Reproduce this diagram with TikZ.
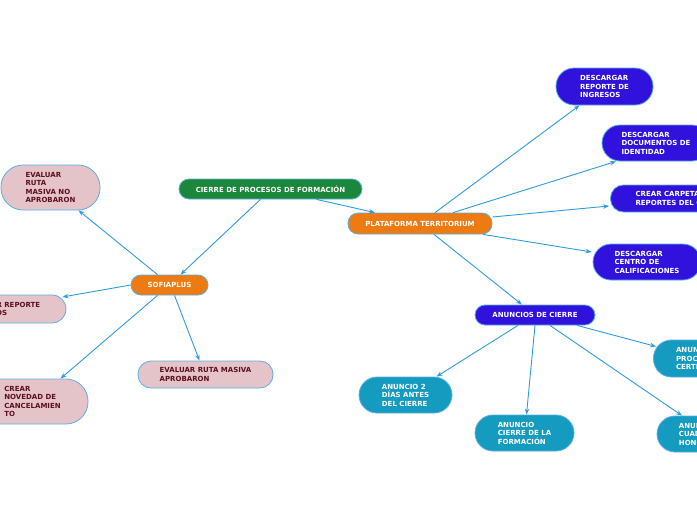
\documentclass[tikz,border=0pt]{standalone}
\usepackage{fontspec}
\setmainfont{DejaVu Sans}
\usetikzlibrary{arrows.meta}

\definecolor{rootgreen}{HTML}{1B873A}
\definecolor{mainorange}{HTML}{EE7A12}
\definecolor{leafpink}{HTML}{E5C4C9}
\definecolor{leaftext}{HTML}{5C0F1E}
\definecolor{taskblue}{HTML}{3112DC}
\definecolor{noticeteal}{HTML}{159BC0}
\definecolor{linkblue}{HTML}{2E9BE0}
\definecolor{rimblue}{HTML}{5AAEE8}

\begin{document}
\begin{tikzpicture}[x=1pt, y=-1pt,
		box/.style={draw=rimblue, line width=0.8pt, align=left, inner sep=0pt,
			font=\fontsize{7}{8.5}\selectfont\bfseries},
		root/.style={box, fill=rootgreen, text=white, rounded corners=10pt},
		hub/.style={box, fill=mainorange, text=white, rounded corners=10pt},
		leaf/.style={box, fill=leafpink, text=leaftext},
		task/.style={box, fill=taskblue, text=white},
		notice/.style={box, fill=noticeteal, text=white},
		link/.style={draw=linkblue, line width=0.9pt, -{Stealth[length=6pt,width=4.5pt]}}]
		\useasboundingbox (0,0) rectangle (697,520);
		\clip (0,0) rectangle (697,520);

		% centro
		\node[root, minimum width=183pt, minimum height=20pt] (cierre) at (270.5,189) {CIERRE DE PROCESOS DE FORMACIÓN};
		\node[hub, minimum width=144pt, minimum height=21pt] (plataforma) at (420,223.5) {PLATAFORMA TERRITORIUM};
		\node[hub, minimum width=77pt, minimum height=20pt] (sofia) at (169.5,285) {SOFIAPLUS};

		% sofiaplus
		\node[leaf, minimum width=99pt, minimum height=45pt, rounded corners=22pt] (evalno) at (50.5,187.5) {EVALUAR\\RUTA\\MASIVA NO\\APROBARON};
		\node[leaf, minimum width=138pt, minimum height=28pt, rounded corners=14pt] (reporte) at (-3,309) {DESCARGAR REPORTE\\DE INGRESOS};
		\node[leaf, minimum width=111pt, minimum height=45pt, rounded corners=22pt] (novedad) at (32.5,401.5) {CREAR\\NOVEDAD DE\\CANCELAMIEN\\TO};
		\node[leaf, minimum width=135pt, minimum height=27pt, rounded corners=13pt] (evalsi) at (205.5,374.5) {EVALUAR RUTA MASIVA\\APROBARON};

		% territorium
		\node[task, minimum width=97pt, minimum height=37pt, rounded corners=18pt] (ingresos) at (604.5,86.5) {DESCARGAR\\REPORTE DE\\INGRESOS};
		\node[task, minimum width=108pt, minimum height=36pt, rounded corners=18pt] (identidad) at (656,143) {DESCARGAR\\DOCUMENTOS DE\\IDENTIDAD};
		\node[task, minimum width=139pt, minimum height=27pt, rounded corners=13pt] (carpeta) at (680,198.5) {CREAR CARPETA DE\\REPORTES DEL CIERRE};
		\node[task, minimum width=108pt, minimum height=36pt, rounded corners=18pt] (notas) at (647,262) {DESCARGAR\\CENTRO DE\\CALIFICACIONES};
		\node[task, minimum width=120pt, minimum height=20pt, rounded corners=10pt] (anuncios) at (535,315) {ANUNCIOS DE CIERRE};

		% anuncios
		\node[notice, minimum width=93pt, minimum height=36pt, rounded corners=18pt] (dosdias) at (405.5,395) {ANUNCIO 2\\DÍAS ANTES\\DEL CIERRE};
		\node[notice, minimum width=99pt, minimum height=36pt, rounded corners=18pt] (formacion) at (524.5,433) {ANUNCIO\\CIERRE DE LA\\FORMACIÓN};
		\node[notice, minimum width=105pt, minimum height=37pt, rounded corners=18pt] (certifica) at (706,358.5) {ANUNCIO\\PROCESO DE\\CERTIFICACIÓN};
		\node[notice, minimum width=90pt, minimum height=36pt, rounded corners=18pt] (honor) at (702,434) {ANUNCIO\\CUADRO DE\\HONOR};

		\draw[link] ([xshift=-10pt]cierre.south) -- ([xshift=11pt]sofia.north);
		\draw[link] ([xshift=46pt]cierre.south) -- ([xshift=-45pt]plataforma.north);

		\draw[link] ([xshift=-12pt]sofia.north) -- ([xshift=28pt]evalno.south);
		\draw[link] (sofia.west) -- ([xshift=-4pt,yshift=12pt]reporte.east);
		\draw[link] ([xshift=-12pt]sofia.south) -- ([xshift=28pt]novedad.north);
		\draw[link] ([xshift=5pt]sofia.south) -- ([xshift=-6pt]evalsi.north);

		\draw[link] ([xshift=15pt]plataforma.north) -- ([xshift=-25pt]ingresos.south);
		\draw[link] ([xshift=33pt]plataforma.north) -- ([xshift=-40pt]identidad.south);
		\draw[link] ([yshift=6.5pt]plataforma.east) -- ([xshift=-1pt,yshift=-7.5pt]carpeta.west);
		\draw[link] ([xshift=63pt]plataforma.south) -- ([xshift=-1pt,yshift=10pt]notas.west);
		\draw[link] ([xshift=14pt]plataforma.south) -- ([xshift=-13pt]anuncios.north);

		\draw[link] ([xshift=-17pt]anuncios.south) -- ([xshift=31pt]dosdias.north);
		\draw[link] (anuncios.south) -- ([xshift=2pt]formacion.north);
		\draw[link] ([xshift=15pt]anuncios.south) -- ([xshift=-20pt]honor.north);
		\draw[link] ([xshift=42pt]anuncios.south) -- ([xshift=3pt,yshift=12pt]certifica.west);
	\end{tikzpicture}
\end{document}
